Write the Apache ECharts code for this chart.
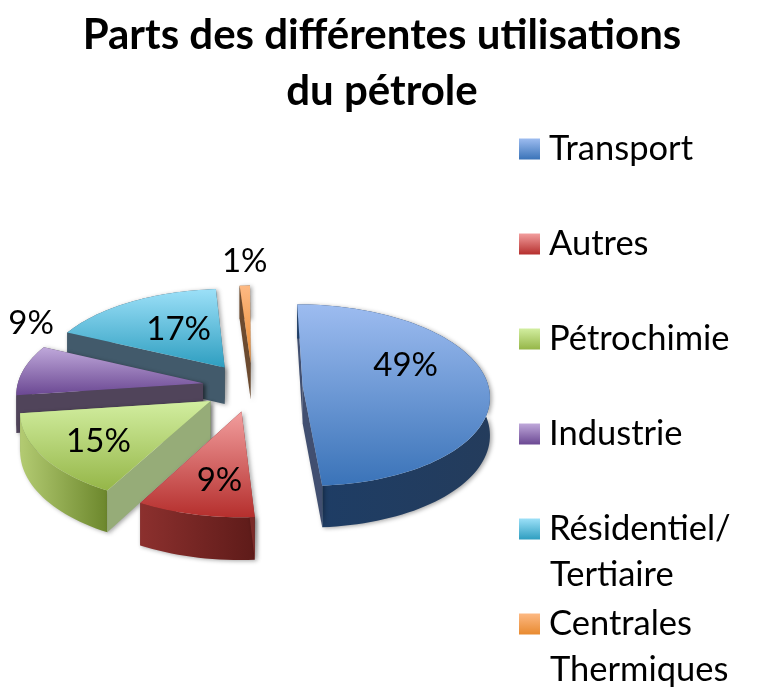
<!DOCTYPE html>
<html>
<head>
<meta charset="utf-8">
<style>html,body{margin:0;padding:0;background:#fff}#c{width:764px;height:692px}</style>
<script src="https://cdn.jsdelivr.net/npm/echarts@6/dist/echarts.min.js"></script>
</head>
<body>
<div id="c"></div>
<script>
var titleText = "Parts des différentes utilisations\ndu pétrole";
var categories = ["Transport", "Autres", "Pétrochimie", "Industrie", "Résidentiel/\nTertiaire", "Centrales\nThermiques"];
var values = [49, 9, 15, 9, 17, 1];

var topLight = ["#9dbcf0", "#f29e9e", "#d2eea0", "#bfa8da", "#9ce0f8", "#fdb983"];
var topDark  = ["#3a73b8", "#b52f2d", "#95b648", "#6b4893", "#2e9ec0", "#e88a30"];
var wallA    = ["#1d3d66", "#8c302e", "#b3cb72", "#50445a", "#425a6b", "#7a5230"];
var wallB    = ["#243c5c", "#5e1b19", "#6c872c", "#50445a", "#425a6b", "#7a5230"];
var cutColor = ["#414f70", "#7a2a28", "#96ac78", "#50445a", "#425a6b", "#6b4a2f"];

// layout of the projected pie
var CX = 252.5, CY = 387, RX = 186, RY = 90, DEPTH = 37.5, PERSP = 0.1, EXPLODE = 0.27, START = -90.3;
var labelShift = [[103, -21], [-22, 69], [-112, 40], [-172, -60], [-46, -38], [-6, -102]];
var FONT = "Lato";

var total = values.reduce(function (a, b) { return a + b; }, 0);

function project(u, v, z) {
  var p = 1 / (1 - PERSP * v);
  return [CX + RX * u * p, CY + RY * v * p + z * DEPTH * p];
}
function sliceAngles(i) {
  var before = 0;
  for (var k = 0; k < i; k++) before += values[k];
  var a0 = START + before / total * 360;
  return [a0, a0 + values[i] / total * 360];
}
function rad(d) { return d * Math.PI / 180; }
function vGrad(a, b) {
  return { type: "linear", x: 0, y: 0, x2: 0, y2: 1, colorStops: [{ offset: 0, color: a }, { offset: 1, color: b }] };
}
function hGrad(a, b) {
  return { type: "linear", x: 0, y: 0, x2: 1, y2: 0, colorStops: [{ offset: 0, color: a }, { offset: 1, color: b }] };
}
function renderSlice(i, api) {
  var value = api.value(0);
  var ang = sliceAngles(i);
  var mid = rad((ang[0] + ang[1]) / 2);
  var ou = EXPLODE * Math.cos(mid), ov = EXPLODE * Math.sin(mid);
  var rimTop = [], rimBot = [];
  var steps = Math.max(2, Math.ceil((ang[1] - ang[0]) / 2));
  for (var s = 0; s <= steps; s++) {
    var t = rad(ang[0] + (ang[1] - ang[0]) * s / steps);
    var u = ou + Math.cos(t), v = ov + Math.sin(t);
    rimTop.push(project(u, v, 0));
    rimBot.push(project(u, v, 1));
  }
  var apexT = project(ou, ov, 0), apexB = project(ou, ov, 1);
  var shadow = { shadowColor: "rgba(0,0,0,0.35)", shadowBlur: 4, shadowOffsetX: 2, shadowOffsetY: 1 };
  function poly(points, style) { return { type: "polygon", shape: { points: points }, style: style }; }
  var cutStyle = Object.assign({ fill: cutColor[i] }, shadow);
  var cutA = poly([apexT, rimTop[0], rimBot[0], apexB], cutStyle);
  var cutB = poly([apexT, rimTop[steps], rimBot[steps], apexB], cutStyle);
  var cuts = rimTop[0][1] < rimTop[steps][1] ? [cutA, cutB] : [cutB, cutA];
  var children = [
    cuts[0],
    poly(rimTop.concat(rimBot.slice().reverse()), Object.assign({ fill: hGrad(wallA[i], wallB[i]) }, shadow)),
    cuts[1],
    poly([apexT].concat(rimTop), { fill: vGrad(topLight[i], topDark[i]) }),
    {
      type: "text",
      z2: 100,
      style: {
        text: Math.round(value / total * 100) + "%",
        x: apexT[0] + labelShift[i][0],
        y: apexT[1] + labelShift[i][1],
        fill: "#000",
        font: "33px " + FONT,
        align: "center",
        verticalAlign: "middle"
      }
    }
  ];
  return { type: "group", children: children };
}

// paint from the back of the pie to the front
function depthRank(i) {
  var a = sliceAngles(i), m = rad((a[0] + a[1]) / 2);
  return Math.sin(m);
}
var order = values.map(function (_, i) { return i; }).sort(function (a, b) { return depthRank(a) - depthRank(b); });

var series = categories.map(function (name, i) {
  return {
    type: "custom",
    name: name,
    coordinateSystem: "none",
    z: 2 + order.indexOf(i),
    silent: true,
    animation: false,
    itemStyle: { color: vGrad(topLight[i], topDark[i]) },
    data: [[values[i]]],
    renderItem: function (params, api) { return renderSlice(i, api); }
  };
});

var secondLines = [];
categories.forEach(function (name, i) {
  var parts = name.split("\n");
  if (parts[1]) secondLines.push({
    type: "text",
    left: 550,
    top: 148 + i * 95 + 45 - 18,
    style: { text: parts[1], font: "34.5px " + FONT, fill: "#000", lineHeight: 40 }
  });
});

var chart = echarts.init(document.getElementById("c"));
chart.setOption({
  backgroundColor: "#fff",
  animation: false,
  title: {
    text: titleText,
    left: 377,
    top: 2,
    textAlign: "center",
    textStyle: { fontFamily: FONT, fontWeight: "bold", fontSize: 42, lineHeight: 56, color: "#000" }
  },
  legend: {
    orient: "vertical",
    left: 519,
    top: 125,
    padding: 0,
    itemGap: 47,
    itemWidth: 21,
    itemHeight: 21,
    icon: "rect",
    selectedMode: false,
    data: categories,
    formatter: function (n) { return n.split("\n")[0]; },
    textStyle: { fontFamily: FONT, fontSize: 34.5, color: "#000", lineHeight: 40, padding: [8, 0, 0, 4] }
  },
  graphic: secondLines,
  series: series
});
</script>
</body>
</html>
